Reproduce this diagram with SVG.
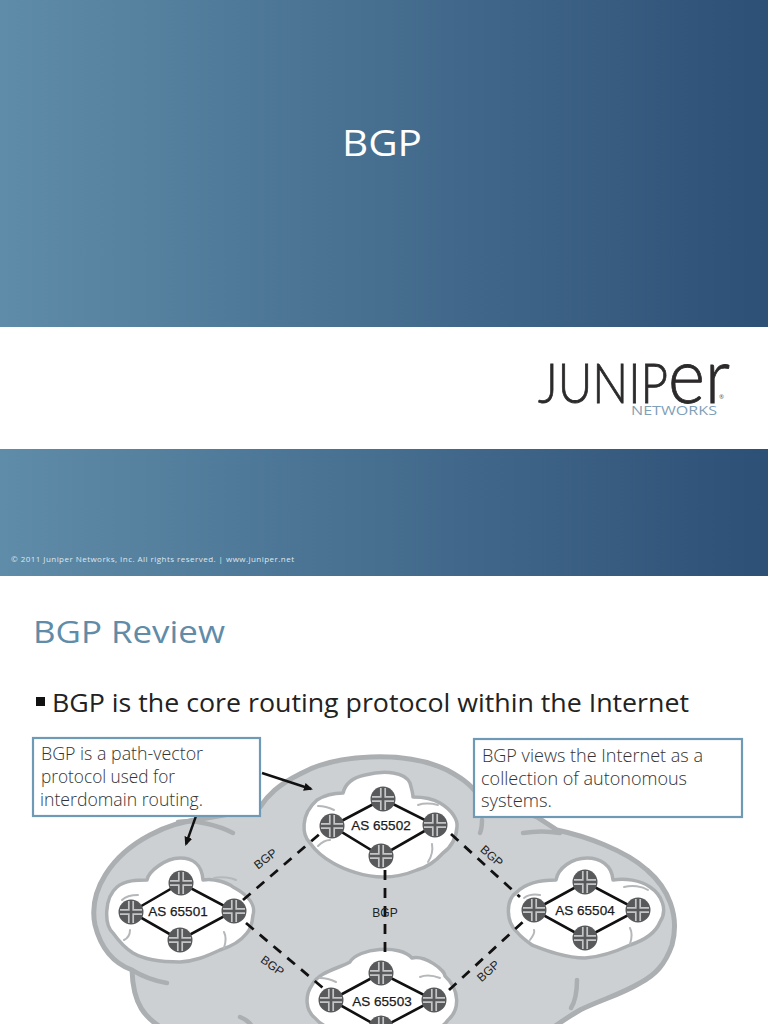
<svg xmlns="http://www.w3.org/2000/svg" width="768" height="1024" viewBox="0 0 768 1024">
<style>
text{font-family:"Open Sans","Liberation Sans",sans-serif}
.big{fill:#cdd0d3;stroke:#acafb1;stroke-width:5;stroke-linejoin:round}
.fold{fill:none;stroke:#acafb1;stroke-width:4.5;stroke-linecap:round}
.cl{fill:#fff;stroke:#acafb1;stroke-width:3.5;stroke-linejoin:round}
.fold2{fill:none;stroke:#b5b8ba;stroke-width:2;stroke-linecap:round}
.link{stroke:#111;stroke-width:2.6;fill:none}
.dash{stroke:#111;stroke-width:2.8;stroke-dasharray:10 8;fill:none}
.arr{stroke:#111;stroke-width:2.4;fill:none;marker-end:url(#ah)}
.as{font-family:"Liberation Sans",sans-serif;font-size:13.5px;fill:#1a1a1a;text-anchor:middle;stroke:#1a1a1a;stroke-width:.25}
.bl{font-family:"Liberation Sans",sans-serif;font-size:12px;fill:#222;text-anchor:middle}
.box{fill:#fff;stroke:#6f9ab5;stroke-width:2.2}
.bt{font-size:18px;font-weight:300;fill:#333}
</style>
<defs>
<linearGradient id="g" x1="0" x2="1" y1="0" y2="0"><stop offset="0" stop-color="#5f8ca8"/><stop offset="1" stop-color="#2d5076"/></linearGradient>
<marker id="ah" markerWidth="9" markerHeight="8" refX="7" refY="4" orient="auto" markerUnits="userSpaceOnUse"><path d="M0 0L9 4L0 8Z" fill="#111"/></marker>
<g id="r"><circle r="12.5" fill="#58595b"/><path d="M-11 -2.2H-2.2V-11M2.2 -11V-2.2H11M11 2.2H2.2V11M-2.2 11V2.2H-11" fill="none" stroke="#c4c5c6" stroke-width="1.7"/></g>
</defs>
<rect width="768" height="1024" fill="#fff"/>
<rect id="top-band" width="768" height="327" fill="url(#g)"/>
<rect id="bottom-band" y="449" width="768" height="127" fill="url(#g)"/>
<text x="382" y="156" font-size="36" fill="#fff" text-anchor="middle" textLength="80" lengthAdjust="spacingAndGlyphs">BGP</text>
<text x="538" y="403" fill="#2c2a2b" stroke="#2c2a2b" stroke-width=".8" style="font-family:Lato,'Open Sans',sans-serif;font-weight:300"><tspan font-size="56" textLength="130" lengthAdjust="spacingAndGlyphs">JUNIP</tspan><tspan font-size="76" textLength="62" lengthAdjust="spacingAndGlyphs">er</tspan></text>
<text x="631" y="415" font-size="13" fill="#7f9fb8" textLength="86" lengthAdjust="spacingAndGlyphs">NETWORKS</text>
<text x="719" y="399" font-size="6" fill="#555">®</text>
<text x="11" y="562" font-size="8" fill="#dfe8ee" textLength="283" lengthAdjust="spacing">© 2011 Juniper Networks, Inc. All rights reserved.  |  www.juniper.net</text>
<text x="33" y="643" font-size="31" fill="#5f8ca8" textLength="192" lengthAdjust="spacingAndGlyphs">BGP Review</text>
<rect x="36" y="697" width="9" height="9" fill="#111"/>
<text x="52" y="712" font-size="26" fill="#222" textLength="637" lengthAdjust="spacingAndGlyphs">BGP is the core routing protocol within the Internet</text>

<g id="internet-cloud">
<path class="big" d="M95 925C88 890 112 855 150 835C170 824 190 820 207 818C225 815 245 812 260 807C268 795 278 785 300 774C335 754 405 750 447 770C458 776 470 783 478 795C495 808 520 810 537 817L557 830C585 836 625 850 647 870C668 888 680 915 672 945C665 965 655 975 640 983C620 995 600 1000 580 1010C570 1016 560 1022 550 1030H165C145 1018 133 1005 132 970C110 962 100 945 95 925Z"/>
<path class="fold" d="M178 822C195 819 220 826 233 833"/>
<path class="fold" d="M132 970C145 978 155 981 167 983"/>
<path class="fold" d="M240 1017C245 1019 249 1022 251 1025"/>
<path class="fold" d="M480 833C482 828 482 824 482 820"/>
<path class="fold" d="M523 833C535 831 548 831 560 833"/>
<path class="fold" d="M577 980C577 990 576 1000 571 1008"/>
</g>

<g id="as65501">
<path class="cl" d="M113 933C104 925 104 898 117 887C125 880 138 880 147 880C148 872 165 858 180 858C192 858 202 864 203 880C215 878 228 883 233 887C248 895 256 905 253 915C252 925 250 930 247 933C240 942 230 947 220 950C205 957 195 961 180 962C160 962 145 960 133 953C125 948 118 940 113 933Z"/>
<path class="fold2" d="M122 900C126 896 132 895 138 895M224 948C226 942 226 936 224 932M236 880C232 878 222 876 214 878M124 940C128 938 130 934 130 930"/>
<path class="link" d="M131 912L181 883L234 911L180 940Z"/>
<use href="#r" x="131" y="912"/><use href="#r" x="181" y="883"/><use href="#r" x="234" y="911"/><use href="#r" x="180" y="940"/>
<text class="as" x="178" y="916">AS 65501</text>
</g>
<g id="as65502">
<path class="cl" d="M310 843C302 835 300 815 317 800C325 795 335 793 343 793C345 785 350 778 365 775C385 770 405 772 410 783C412 790 413 795 413 797C425 797 435 800 440 803C452 810 458 820 457 827C456 840 450 848 443 853C435 862 428 867 417 870C405 875 395 877 383 877C365 877 345 870 333 863C322 857 315 850 310 843Z"/>
<path class="fold2" d="M318 846C322 842 326 840 330 840M428 862C432 856 433 850 432 844M318 806C325 806 330 808 334 810M438 805C430 803 424 803 418 805"/>
<path class="link" d="M332 826L383 799L435 825L381 856Z"/>
<use href="#r" x="332" y="826"/><use href="#r" x="383" y="799"/><use href="#r" x="435" y="825"/><use href="#r" x="381" y="856"/>
<text class="as" x="381" y="830">AS 65502</text>
</g>
<g id="as65503">
<path class="cl" d="M312 985C318 972 340 968 350 962C358 948 400 944 412 958C425 955 445 970 445 976C460 990 460 1010 448 1020C440 1032 415 1040 385 1040C355 1040 325 1030 315 1018C305 1010 305 995 312 985Z"/>
<path class="fold2" d="M440 978C432 975 425 975 420 977M320 978C327 978 332 980 336 982"/>
<path class="link" d="M331 1000L381 973L434 1000L381 1028Z"/>
<use href="#r" x="331" y="1000"/><use href="#r" x="381" y="973"/><use href="#r" x="434" y="1000"/><use href="#r" x="381" y="1028"/>
<text class="as" x="382" y="1006">AS 65503</text>
</g>
<g id="as65504">
<path class="cl" d="M517 932C506 922 505 900 517 892C525 884 540 880 556 880C558 868 572 858 587 858C600 858 612 865 613 880C625 878 640 880 650 887C662 895 668 910 660 922C656 932 645 940 630 945C615 952 600 957 585 958C565 958 545 950 532 945C525 940 520 936 517 932Z"/>
<path class="fold2" d="M524 898C528 895 534 894 540 895M630 944C632 938 632 932 630 928M648 890C642 886 632 885 624 887M530 940C533 936 535 932 534 930"/>
<path class="link" d="M534 910L585 882L638 910L585 938Z"/>
<use href="#r" x="534" y="910"/><use href="#r" x="585" y="882"/><use href="#r" x="638" y="910"/><use href="#r" x="585" y="938"/>
<text class="as" x="585" y="915">AS 65504</text>
</g>

<g id="connectors">
<path class="dash" d="M243 900L322 832"/>
<path class="dash" d="M246 923L323 988"/>
<path class="dash" d="M451 834L520 897"/>
<path class="dash" d="M449 990L525 920"/>
<path class="dash" d="M385 870V960"/>
<path class="arr" d="M262 773L311 789"/>
<path class="arr" d="M196 816L186 844"/>
</g>

<g id="labels">
<text class="bl" transform="translate(268 862) rotate(-38)">BGP</text>
<text class="bl" transform="translate(270 969) rotate(36)">BGP</text>
<text class="bl" transform="translate(489 859) rotate(42)">BGP</text>
<text class="bl" transform="translate(491 974) rotate(-42)">BGP</text>
<text class="bl" x="385" y="917">BGP</text>
</g>

<g id="callout-left">
<rect class="box" x="33" y="738" width="227" height="78"/>
<text class="bt" x="41" y="760" textLength="162" lengthAdjust="spacingAndGlyphs">BGP is a path-vector</text>
<text class="bt" x="41" y="783" textLength="134" lengthAdjust="spacingAndGlyphs">protocol used for</text>
<text class="bt" x="40" y="806" textLength="163" lengthAdjust="spacingAndGlyphs">interdomain routing.</text>
</g>
<g id="callout-right">
<rect class="box" x="474" y="739" width="268" height="78"/>
<text class="bt" x="482" y="762" textLength="221" lengthAdjust="spacingAndGlyphs">BGP views the Internet as a</text>
<text class="bt" x="481" y="785" textLength="206" lengthAdjust="spacingAndGlyphs">collection of autonomous</text>
<text class="bt" x="481" y="807" textLength="71" lengthAdjust="spacingAndGlyphs">systems.</text>
</g>
</svg>
